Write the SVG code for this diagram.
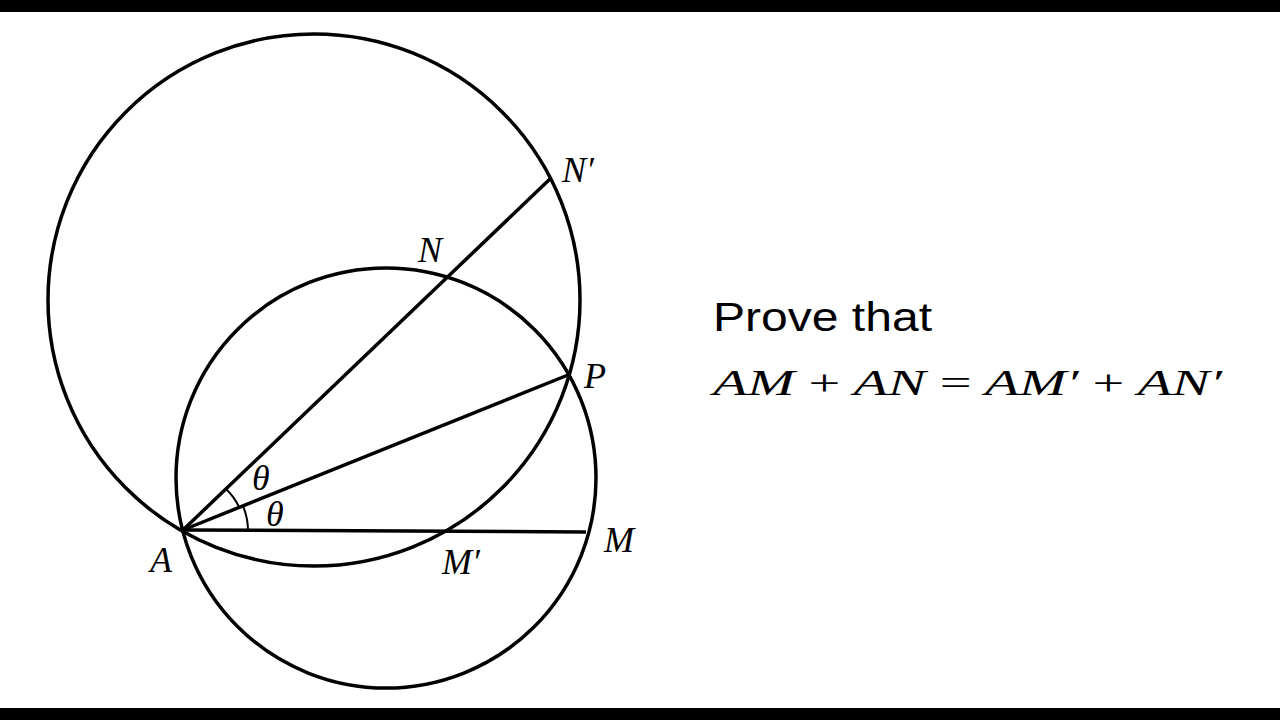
<svg xmlns="http://www.w3.org/2000/svg" width="1280" height="720" viewBox="0 0 1280 720">
<style>
.s{fill:none;stroke:#000;stroke-width:3.5}
.a{fill:none;stroke:#000;stroke-width:2}
.l{font-family:"Liberation Serif",serif;font-style:italic;font-size:36px;fill:#000}
.u{font-style:normal}
.t{font-family:"Liberation Sans",sans-serif;font-size:40px;fill:#000}
</style>
<rect width="1280" height="720" fill="#fff"/>
<rect width="1280" height="12" fill="#000"/>
<rect y="708" width="1280" height="12" fill="#000"/>
<g id="circle-big"><circle class="s" cx="314" cy="300" r="266"/></g>
<g id="circle-small"><circle class="s" cx="386" cy="478" r="210"/></g>
<g id="connectors">
<line class="s" x1="183" y1="530" x2="551" y2="178"/>
<line class="s" x1="183" y1="530" x2="568" y2="375"/>
<line class="s" x1="183" y1="530" x2="586" y2="532"/>
<path class="a" d="M226,489 A60,60 0 0 1 239,507"/>
<path class="a" d="M243,506 A65,65 0 0 1 248,530"/>
</g>
<g id="labels">
<text class="l" x="562" y="182">N′</text>
<text class="l" x="418" y="262">N</text>
<text class="l" x="584" y="388">P</text>
<text class="l" x="604" y="552">M</text>
<text class="l" x="442" y="574">M′</text>
<text class="l" x="150" y="572">A</text>
<text class="l" x="252" y="490" font-size="30">θ</text>
<text class="l" x="266" y="526" font-size="30">θ</text>
<text class="t" x="713" y="331" textLength="219" lengthAdjust="spacingAndGlyphs">Prove that</text>
<text class="l" x="713" y="395" font-size="44" textLength="509" lengthAdjust="spacingAndGlyphs">AM <tspan class="u">+</tspan> AN <tspan class="u">=</tspan> AM′ <tspan class="u">+</tspan> AN′</text>
</g>
</svg>
